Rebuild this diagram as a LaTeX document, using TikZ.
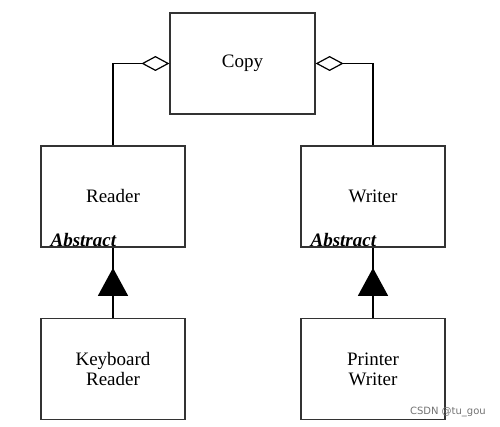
\documentclass[tikz,border=0pt]{standalone}
\usepackage{fontspec}
\setmainfont{Liberation Serif}
\newfontfamily\wmfont{DejaVu Sans}
\usetikzlibrary{arrows.meta,calc}
\begin{document}
\begin{tikzpicture}[x=1pt,y=1pt,
  cls/.style={draw=black!80,line width=1.2pt,minimum width=144pt,minimum height=101pt,inner sep=0pt,align=center,font=\fontsize{19}{20}\selectfont},
  link/.style={draw=black,line width=1.5pt},
  aggr/.style={link,-{Diamond[open,length=28pt,width=15pt,line width=1.2pt]}},
  gen/.style={link,-{Triangle[length=28pt,width=30pt]}},
  abs/.style={font=\fontsize{19}{20}\selectfont\bfseries\itshape,inner sep=0pt,anchor=base west},
]
\useasboundingbox (0,0) rectangle (500,427);
\node[cls,minimum width=145pt] (copy) at (242.5,363.5) {Copy};
\node[cls] (reader) at (113,230.5) {Reader};
\node[cls] (writer) at (373,230.5) {Writer};
\node[cls] (kb) at (113,58) {Keyboard\\Reader};
\node[cls] (pw) at (373,58) {Printer\\Writer};
\node[abs] (ra) at ($(reader.south west)+(10,1)$) {Abstract};
\node[abs] (wa) at ($(writer.south west)+(10,1)$) {Abstract};
\draw[aggr] (reader.north) |- (copy.west);
\draw[aggr] (writer.north) |- (copy.east);
\draw[link] (kb.north) -- (reader.south);
\draw[link] (pw.north) -- (writer.south);
\draw[gen] (kb.north) -- ($(kb.north)+(0,50)$);
\draw[gen] (pw.north) -- ($(pw.north)+(0,50)$);
\node[font=\wmfont\fontsize{10}{12}\selectfont,text=black!55,anchor=base east,inner sep=0pt] (wm) at (486,12) {CSDN @tu\_gou};
\end{tikzpicture}
\end{document}
